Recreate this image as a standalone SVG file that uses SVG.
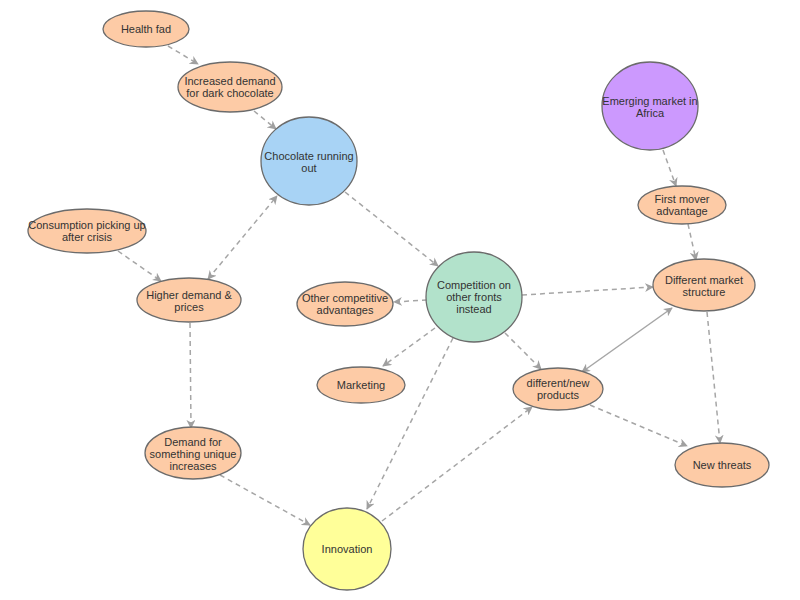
<svg xmlns="http://www.w3.org/2000/svg" width="800" height="600" viewBox="0 0 800 600">
<style>
.n{stroke:#6b6b6b;stroke-width:1.3}
.o{fill:#fdcba6}
.t{font-family:"Liberation Sans",Arial,sans-serif;font-size:11px;fill:#333;text-anchor:middle}
.c{fill:none;stroke:#a6a6a6;stroke-width:1.5;stroke-dasharray:5,4}
.s{fill:none;stroke:#a6a6a6;stroke-width:1.5}
</style>
<defs>
<marker id="ah" viewBox="0 0 10 10" refX="9" refY="5" markerWidth="9" markerHeight="9" markerUnits="userSpaceOnUse" orient="auto-start-reverse">
<path d="M0,0 L10,5 L0,10 L3,5 z" fill="#a0a0a0"/>
</marker>
</defs>
<rect width="800" height="600" fill="#fff"/>
<g id="connectors">
<path class="c" d="M168,46 L198,64" marker-end="url(#ah)"/>
<path class="c" d="M254,111 L276,129" marker-end="url(#ah)"/>
<path class="c" d="M208,279 L277,196" marker-start="url(#ah)" marker-end="url(#ah)"/>
<path class="c" d="M118,251 L161,281" marker-end="url(#ah)"/>
<path class="c" d="M190,323 L191,428" marker-end="url(#ah)"/>
<path class="c" d="M220,475 L310,525" marker-end="url(#ah)"/>
<path class="c" d="M345,192 L438,266" marker-end="url(#ah)"/>
<path class="c" d="M427,300 L394,302" marker-end="url(#ah)"/>
<path class="c" d="M435,328 L383,366" marker-end="url(#ah)"/>
<path class="c" d="M453,338 L367,509" marker-end="url(#ah)"/>
<path class="c" d="M505,333 L541,369" marker-end="url(#ah)"/>
<path class="c" d="M522,295 L653,287" marker-end="url(#ah)"/>
<path class="c" d="M382,521 L532,407" marker-end="url(#ah)"/>
<path class="s" d="M582,372 L672,308" marker-start="url(#ah)" marker-end="url(#ah)"/>
<path class="c" d="M590,405 L687,446" marker-end="url(#ah)"/>
<path class="c" d="M707,312 L720,443" marker-end="url(#ah)"/>
<path class="c" d="M663,150 L676,186" marker-end="url(#ah)"/>
<path class="c" d="M688,224 L696,260" marker-end="url(#ah)"/>
</g>
<g id="health-fad"><ellipse class="n o" cx="146" cy="29" rx="43" ry="18"/><text class="t" x="146" y="33">Health fad</text></g>
<g id="increased-demand"><ellipse class="n o" cx="230" cy="87" rx="52" ry="25"/><text class="t" x="230" y="85">Increased demand</text><text class="t" x="230" y="97">for dark chocolate</text></g>
<g id="chocolate-running-out"><ellipse class="n" fill="#a8d3f5" cx="309" cy="161" rx="48" ry="44"/><text class="t" x="309" y="160">Chocolate running</text><text class="t" x="309" y="172">out</text></g>
<g id="consumption"><ellipse class="n o" cx="87" cy="231" rx="59" ry="22"/><text class="t" x="87" y="229">Consumption picking up</text><text class="t" x="87" y="241">after crisis</text></g>
<g id="higher-demand"><ellipse class="n o" cx="189" cy="300" rx="52" ry="22"/><text class="t" x="189" y="299">Higher demand &amp;</text><text class="t" x="189" y="311">prices</text></g>
<g id="demand-unique"><ellipse class="n o" cx="193" cy="453" rx="48" ry="26"/><text class="t" x="193" y="446">Demand for</text><text class="t" x="193" y="458">something unique</text><text class="t" x="193" y="470">increases</text></g>
<g id="competition"><ellipse class="n" fill="#b2e2cb" cx="474" cy="297" rx="48" ry="45"/><text class="t" x="474" y="289">Competition on</text><text class="t" x="474" y="301">other fronts</text><text class="t" x="474" y="313">instead</text></g>
<g id="other-competitive"><ellipse class="n o" cx="345" cy="304" rx="48" ry="22"/><text class="t" x="345" y="302">Other competitive</text><text class="t" x="345" y="314">advantages</text></g>
<g id="marketing"><ellipse class="n o" cx="361" cy="385" rx="44" ry="18"/><text class="t" x="361" y="389">Marketing</text></g>
<g id="different-new-products"><ellipse class="n o" cx="558" cy="389" rx="45" ry="21"/><text class="t" x="558" y="387">different/new</text><text class="t" x="558" y="399">products</text></g>
<g id="emerging-market"><ellipse class="n" fill="#cc99fe" cx="650" cy="106" rx="48" ry="44"/><text class="t" x="650" y="105">Emerging market in</text><text class="t" x="650" y="117">Africa</text></g>
<g id="first-mover"><ellipse class="n o" cx="682" cy="205" rx="44" ry="19"/><text class="t" x="682" y="203">First mover</text><text class="t" x="682" y="215">advantage</text></g>
<g id="different-market-structure"><ellipse class="n o" cx="704" cy="285" rx="51" ry="26"/><text class="t" x="704" y="284">Different market</text><text class="t" x="704" y="296">structure</text></g>
<g id="new-threats"><ellipse class="n o" cx="722" cy="465" rx="47" ry="22"/><text class="t" x="722" y="469">New threats</text></g>
<g id="innovation"><ellipse class="n" fill="#ffff99" cx="347" cy="549" rx="44" ry="41"/><text class="t" x="347" y="553">Innovation</text></g>
</svg>
